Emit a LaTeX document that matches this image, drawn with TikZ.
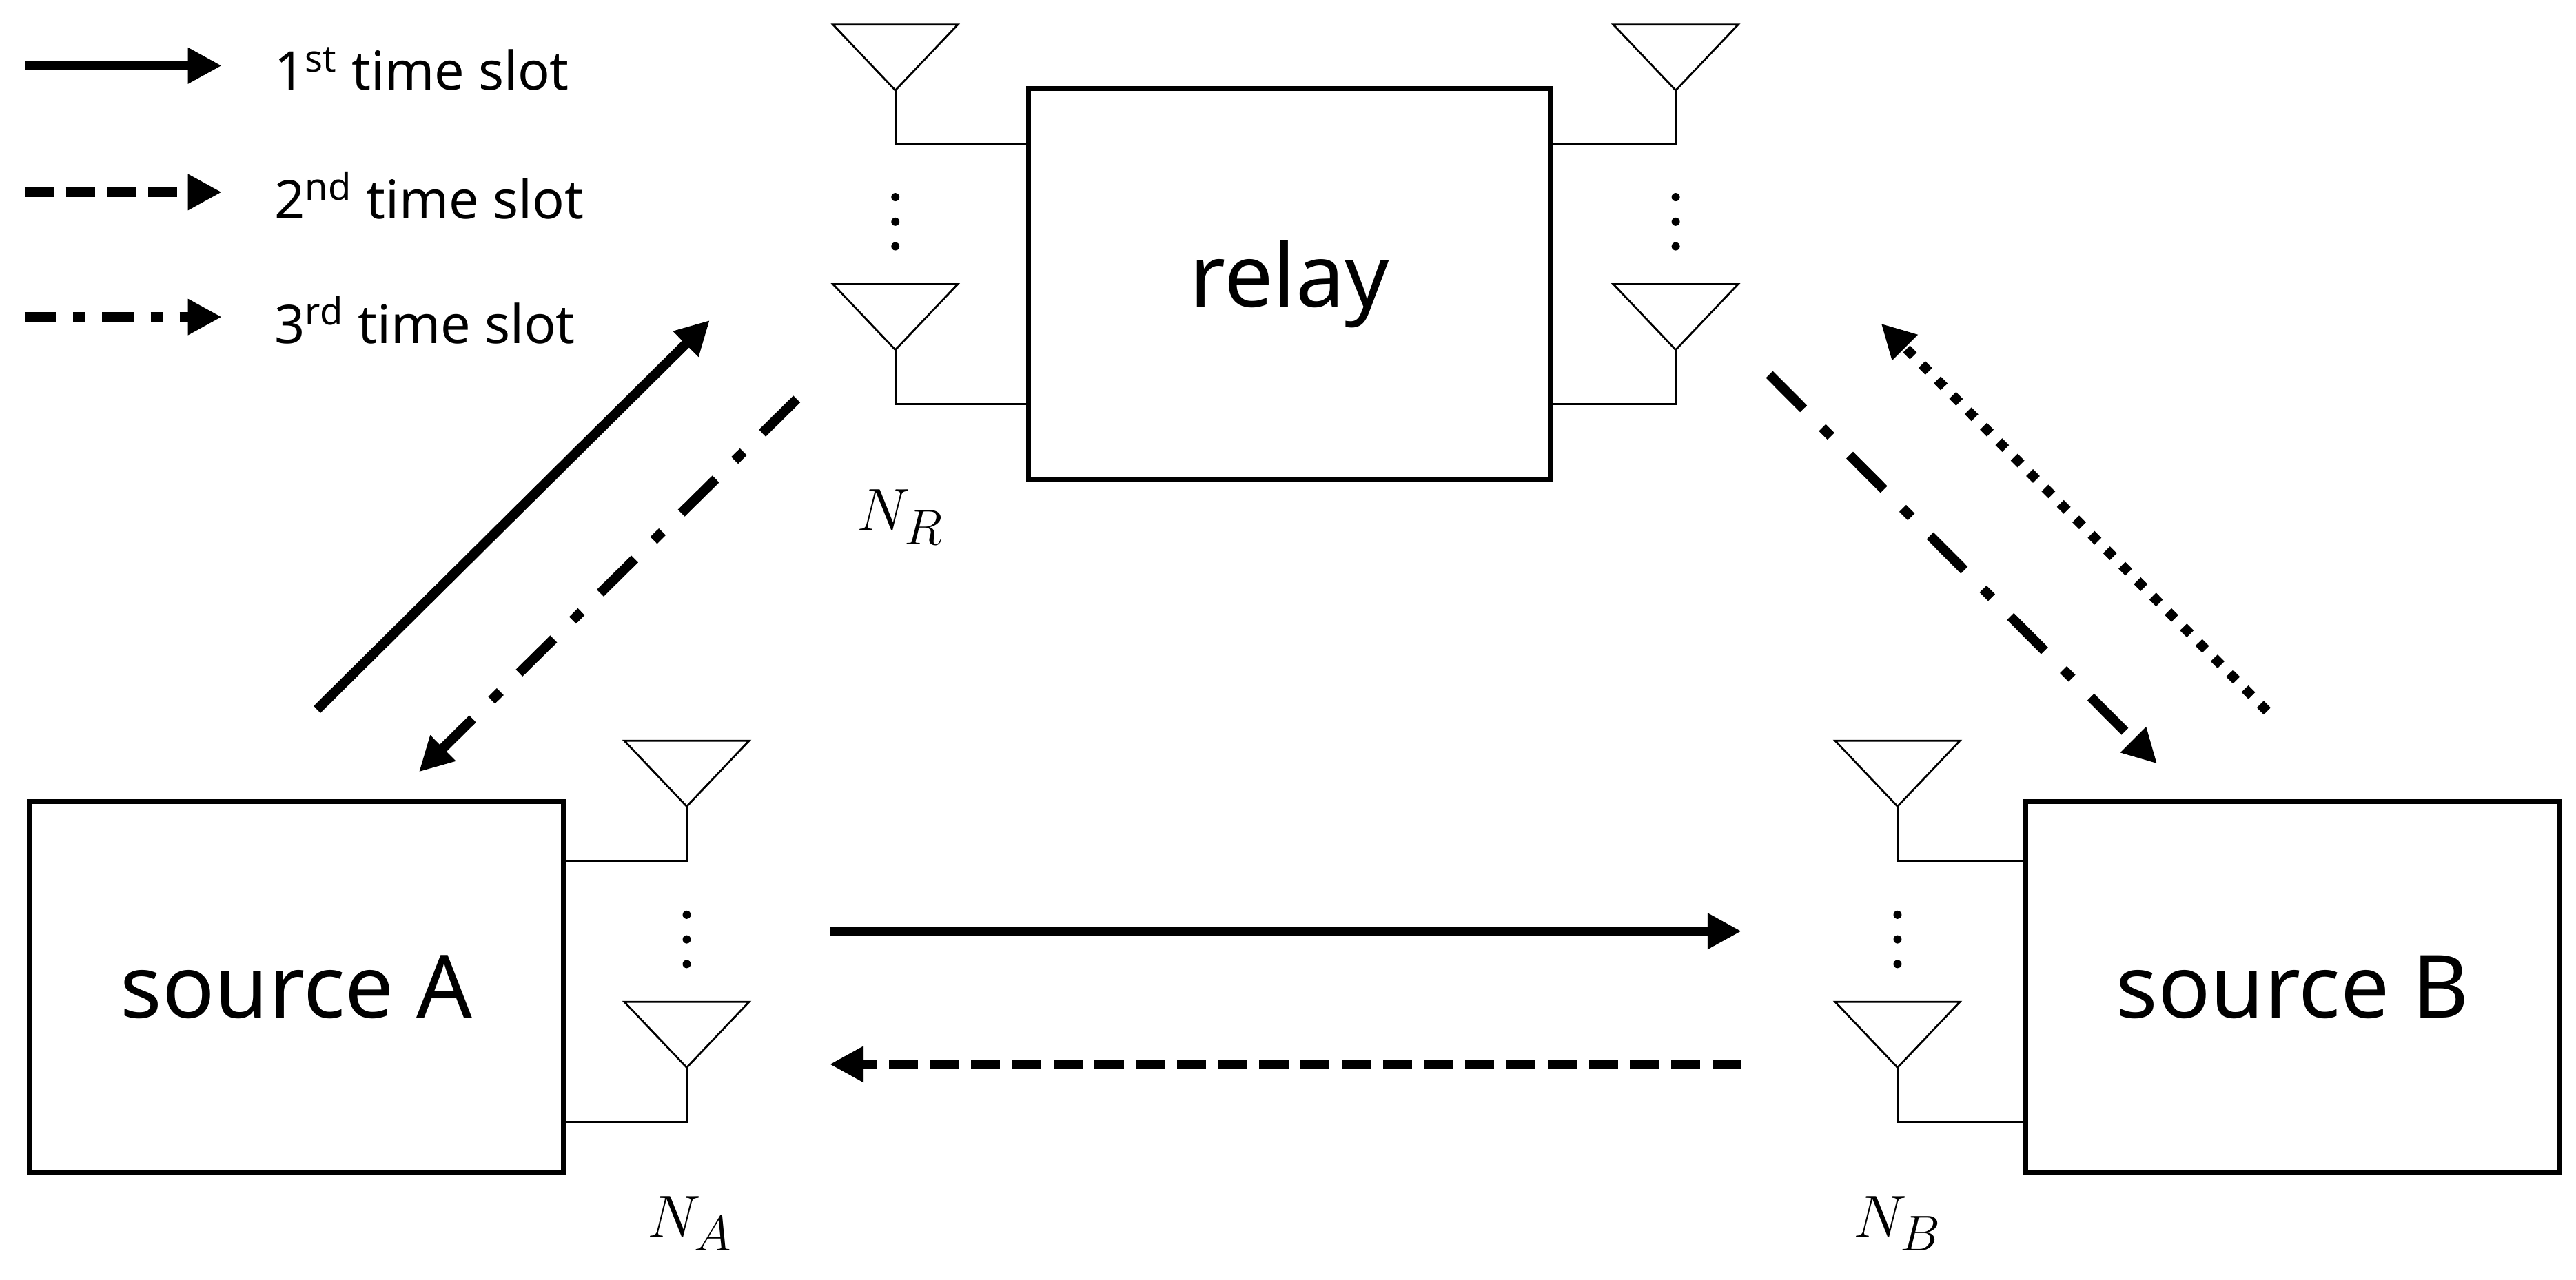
\documentclass[tikz,border=0pt]{standalone}
\usepackage{fontspec}
\setmainfont{Noto Sans}
\usetikzlibrary{arrows.meta}

\tikzset{
    box/.style={draw, line width=2pt, minimum width=7.58cm, minimum height=5.67cm, inner sep=0pt, font=\fontsize{36}{40}\selectfont},
    srcbox/.style={box, minimum width=7.75cm, minimum height=5.39cm},
    link/.style={line width=4pt, -{Triangle[length=14pt,width=14pt]}},
    slotone/.style={link},
    slottwo/.style={link, dash pattern=on 12pt off 5pt},
    slotthree/.style={link, dash pattern=on 20pt off 11pt on 5pt off 11pt},
    slotfour/.style={link, dash pattern=on 4pt off 5pt},
    ant/.style={line width=0.8pt},
    legend/.style={anchor=west, font=\fontsize{22}{26}\selectfont},
    lbl/.style={font=\fontsize{30}{34}\selectfont}
}

\begin{document}
\begin{tikzpicture}[x=0.02384cm, y=-0.02384cm]
    \useasboundingbox (0,0) rectangle (1568,779);

    % blocks
    \node[box] (relay) at (785,173) {relay};
    \node[srcbox] (srcA) at (180.5,601) {source A};
    \node[srcbox] (srcB) at (1395.5,601) {source B};

    % antennas: centre x, top y, side of the block
    \foreach \x/\y/\bx in {545/15/626, 545/173/626, 1020/15/944, 1020/173/944,
                           418/451/343, 418/610/343, 1155/451/1233, 1155/610/1233} {
        \draw[ant] (\x-38,\y) -- (\x+38,\y) -- (\x,\y+40) -- cycle;
        \draw[ant] (\x,\y+40) -- (\x,\y+73) -- (\bx,\y+73);
    }
    \foreach \x/\y in {545/120, 1020/120, 418/557, 1155/557} {
        \foreach \k in {0,1,2}
            \fill (\x,\y+\k*15) circle (2.5);
    }

    % antenna counts
    \node[lbl] (NR) at (548,315) {$N_R$};
    \node[lbl] (NA) at (420,745) {$N_A$};
    \node[lbl] (NB) at (1155,745) {$N_B$};

    % end points of the links
    \coordinate (a1) at (193,432);
    \coordinate (r1) at (432,195);
    \coordinate (r2) at (485,243);
    \coordinate (a2) at (255,470);
    \coordinate (r3) at (1077,228);
    \coordinate (b3) at (1313,465);
    \coordinate (b4) at (1380,433);
    \coordinate (r4) at (1145,197);
    \coordinate (a5) at (505,567);
    \coordinate (b5) at (1060,567);
    \coordinate (b6) at (1060,648);
    \coordinate (a6) at (505,648);

    % links
    \draw[slotone] (a1) -- (r1);
    \draw[slotthree] (r2) -- (a2);
    \draw[slotthree] (r3) -- (b3);
    \draw[slotfour] (b4) -- (r4);
    \draw[slotone] (a5) -- (b5);
    \draw[slottwo] (b6) -- (a6);

    % legend
    \coordinate (l1s) at (15,40);  \coordinate (l1e) at (135,40);
    \coordinate (l2s) at (15,117); \coordinate (l2e) at (135,117);
    \coordinate (l3s) at (15,193); \coordinate (l3e) at (135,193);
    \draw[slotone] (l1s) -- (l1e);
    \draw[slottwo] (l2s) -- (l2e);
    \draw[link, dash pattern=on 13pt off 7pt on 5pt off 7pt] (l3s) -- (l3e);
    \node[legend] (t1) at (162,42) {1\textsuperscript{st} time slot};
    \node[legend] (t2) at (162,119) {2\textsuperscript{nd} time slot};
    \node[legend] (t3) at (162,195) {3\textsuperscript{rd} time slot};
\end{tikzpicture}
\end{document}
